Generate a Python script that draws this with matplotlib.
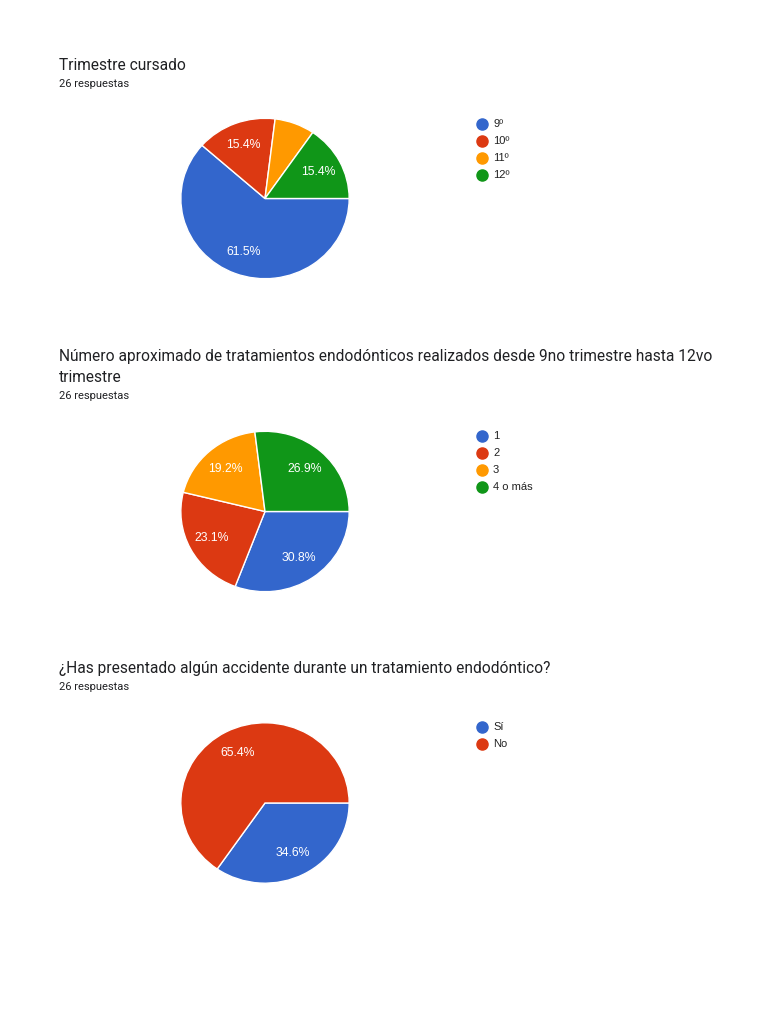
import matplotlib
matplotlib.use("Agg")
import matplotlib.pyplot as plt
from matplotlib.lines import Line2D

W, H = 768, 1024
BLUE, RED, ORANGE, GREEN = "#3366CC", "#DC3912", "#FF9900", "#109618"

# Chart 1
title1 = "Trimestre cursado"
labels1 = ["9º", "10º", "11º", "12º"]
values1 = [16, 4, 2, 4]

# Chart 2
title2 = ["Número aproximado de tratamientos endodónticos realizados desde 9no trimestre hasta 12vo",
          "trimestre"]
labels2 = ["1", "2", "3", "4 o más"]
values2 = [8, 6, 5, 7]

# Chart 3
title3 = "¿Has presentado algún accidente durante un tratamiento endodóntico?"
labels3 = ["Sí", "No"]
values3 = [9, 17]

responses = "26 respuestas"
colors = [BLUE, RED, ORANGE, GREEN]

fig = plt.figure(figsize=(W / 100, H / 100), dpi=100)
fig.patch.set_facecolor("white")


def fy(y):
    return 1 - y / H


def fx(x):
    return x / W


def text(x, y, s, **kw):
    fig.text(fx(x), fy(y), s, va="center", ha="left", **kw)


def pie(cx, cy, rx, ry, values, cols):
    ax = fig.add_axes([fx(cx - rx), fy(cy + ry), 2 * rx / W, 2 * ry / H])

    def fmt(p):
        return f"{p:.1f}%" if p >= 10 else ""

    ax.pie(
        values, colors=cols, startangle=0, counterclock=False,
        autopct=fmt, pctdistance=0.71,
        wedgeprops=dict(edgecolor="white", linewidth=1),
        textprops=dict(color="white", fontsize=8.8, family="Liberation Sans"))
    ax.set_aspect("auto")
    ax.set_xlim(-1.01, 1.01)
    ax.set_ylim(-1.01, 1.01)
    ax.axis("off")


def legend(x, y0, labels, cols, step=17):
    for i, (lab, c) in enumerate(zip(labels, cols)):
        y = y0 + i * step
        fig.add_artist(Line2D([fx(x)], [fy(y)], marker="o", markersize=8,
                              color=c, transform=fig.transFigure))
        text(x + 11, y, lab, fontsize=8, family="Liberation Sans", color="#222222")


TFONT = dict(family="Roboto", color="#202124")

# Chart 1
text(59, 65, title1, fontsize=11.2, **TFONT)
text(59, 84, responses, fontsize=8, **TFONT)
pie(265, 198.5, 85, 81, values1, colors)
legend(482, 124, labels1, colors)

# Chart 2
text(59, 356, title2[0], fontsize=11.2, **TFONT)
text(59, 378, title2[1], fontsize=11.2, **TFONT)
text(59, 396, responses, fontsize=8, **TFONT)
pie(265, 511.5, 85, 81, values2, colors)
legend(482, 436, labels2, colors)

# Chart 3
text(59, 668, title3, fontsize=11.2, **TFONT)
text(59, 687, responses, fontsize=8, **TFONT)
pie(265, 803, 85, 81, values3, colors[:2])
legend(482, 727, labels3, colors[:2])

fig.savefig("out.png", dpi=100, facecolor="white")
